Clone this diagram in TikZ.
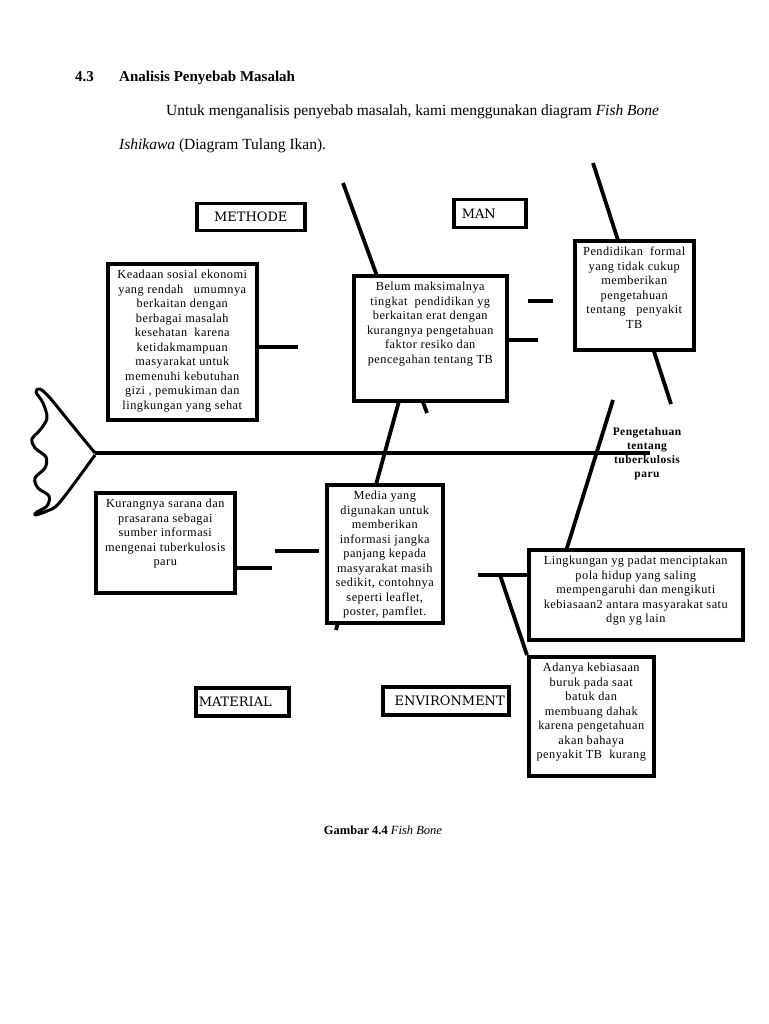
\documentclass[tikz,border=0pt]{standalone}
\usepackage{fontspec}
\setmainfont{Liberation Serif}
\newfontfamily\slab{DejaVu Serif}
\newfontfamily\boxfont[LetterSpace=4.0]{Liberation Serif}
\newcommand\bx[3]{\parbox[t][#2pt][t]{#1pt}{\centering\boxfont\fontsize{12.3}{14.5}\selectfont\rule{0pt}{15pt}#3}}
\begin{document}
\begin{tikzpicture}[x=1pt,y=-1pt,
  box/.style={draw, line width=3.5pt, fill=white, inner sep=0pt, anchor=north west},
  lab/.style={draw, line width=3.5pt, fill=white, inner ysep=0pt, anchor=north west, font=\slab\fontsize{13}{15}\selectfont},
  bone/.style={line width=3.8pt},
  stub/.style={line width=3.8pt}]
\useasboundingbox[fill=white] (0,0) rectangle (768,1024);

% header text
\node[anchor=base west, font=\bfseries\fontsize{15}{18}\selectfont, inner sep=0pt] (num) at (75,82) {4.3};
\node[anchor=base west, font=\bfseries\fontsize{15}{18}\selectfont, inner sep=0pt] (head) at (119,82) {Analisis Penyebab Masalah};
\node[anchor=base west, font=\fontsize{15.5}{18}\selectfont, inner sep=0pt] (p1) at (166,116) {Untuk menganalisis penyebab masalah, kami menggunakan diagram \textit{Fish Bone}};
\node[anchor=base west, font=\fontsize{15.5}{18}\selectfont, inner sep=0pt] (p2) at (119,150) {\textit{Ishikawa} (Diagram Tulang Ikan).};

% bones
\coordinate (b1a) at (343,183); \coordinate (b1b) at (427,413);
\coordinate (b2a) at (593,163); \coordinate (b2b) at (671,404);
\coordinate (b3a) at (399,401); \coordinate (b3b) at (336,630);
\coordinate (b4a) at (613,400); \coordinate (b4b) at (538,641);
\draw[bone] (b1a) -- (b1b);
\draw[bone] (b2a) -- (b2b);
\draw[bone] (b3a) -- (b3b);
\draw[bone] (b4a) -- (b4b);

% spine and head
\coordinate (head0) at (95,453);
\coordinate (spineEnd) at (650,453);
\draw[line width=3.8pt] (head0) -- (spineEnd);
\draw[line width=3pt, line join=round] plot[smooth, tension=0.55] coordinates {(95,453) (72,425) (50,398) (40,389) (36,392) (43,403) (47,418) (40,430) (32,439) (35,448) (46,457) (45,468) (35,478) (38,488) (49,496) (47,506) (37,512) (35,515) (47,511) (60,502) (95,455)};

% boxes
\node[box] (keadaan) at (106,262) {\bx{149}{156}{Keadaan sosial ekonomi\\ yang rendah \ \ umumnya\\ berkaitan dengan\\ berbagai masalah\\ kesehatan \ karena\\ ketidakmampuan\\ masyarakat untuk\\ memenuhi kebutuhan\\ gizi , pemukiman dan\\ lingkungan yang sehat}};
\node[box] (belum) at (352,274) {\bx{153}{125}{Belum maksimalnya\\ tingkat \ pendidikan yg\\ berkaitan erat dengan\\ kurangnya pengetahuan\\ faktor resiko dan\\ pencegahan tentang TB}};
\node[box] (pend) at (573,239) {\bx{119}{109}{Pendidikan \ formal\\ yang tidak cukup\\ memberikan\\ pengetahuan\\ tentang \ \ penyakit\\ TB}};
\node[box] (kurang) at (94,491) {\bx{139}{100}{Kurangnya sarana dan\\ prasarana sebagai\\ sumber informasi\\ mengenai tuberkulosis\\ paru}};
\node[box] (media) at (325,483) {\bx{116}{138}{Media yang\\ digunakan untuk\\ memberikan\\ informasi jangka\\ panjang kepada\\ masyarakat masih\\ sedikit, contohnya\\ seperti leaflet,\\ poster, pamflet.}};
\node[box] (ling) at (527,548) {\bx{214}{90}{Lingkungan yg padat menciptakan\\ pola hidup yang saling\\ mempengaruhi dan mengikuti\\ kebiasaan2 antara masyarakat satu\\ dgn yg lain}};
\node[box] (adanya) at (527,655) {\bx{125}{119}{Adanya kebiasaan\\ buruk pada saat\\ batuk dan\\ membuang dahak\\ karena pengetahuan\\ akan bahaya\\ penyakit TB \ kurang}};

% category labels
\node[lab, minimum width=108pt, minimum height=27pt] (methode) at (195,202) {METHODE};
\node[lab, minimum height=28pt, inner xsep=8pt, text width=56pt, align=left] (man) at (452,198) {MAN};
\node[lab, minimum height=28pt, inner xsep=3pt, text width=87pt, align=left] (material) at (194,686) {MATERIAL};
\node[lab, minimum width=126pt, minimum height=28pt, inner xsep=0pt] (env) at (381,685) {\hspace*{8pt}ENVIRONMENT};

% effect label
\node[font=\boxfont\bfseries\fontsize{11.5}{14}\selectfont, align=center, inner sep=0pt] (effect) at (647,454) {Pengetahuan\\ tentang\\ tuberkulosis\\ paru};

% stubs
\coordinate (s1) at (298,347);
\draw[stub] (keadaan.east |- s1) -- (s1);
\coordinate (s2a) at (528,301); \coordinate (s2b) at (553,301);
\draw[stub] (s2a) -- (s2b);
\coordinate (s3) at (538,340);
\draw[stub] (belum.east |- s3) -- (s3);
\coordinate (s4) at (272,568);
\draw[stub] (kurang.east |- s4) -- (s4);
\coordinate (s5a) at (275,551); \coordinate (s5b) at (319,551);
\draw[stub] (s5a) -- (s5b);
\coordinate (s6) at (478,575);
\draw[stub] (s6) -- (ling.west |- s6);
\coordinate (s7) at (500,575);
\draw[bone] (s7) -- (adanya.north west);

% caption
\node[anchor=base, font=\fontsize{12.5}{14}\selectfont, inner sep=0pt] (cap) at (383,834) {\textbf{Gambar 4.4} \textit{Fish Bone}};
\end{tikzpicture}
\end{document}
